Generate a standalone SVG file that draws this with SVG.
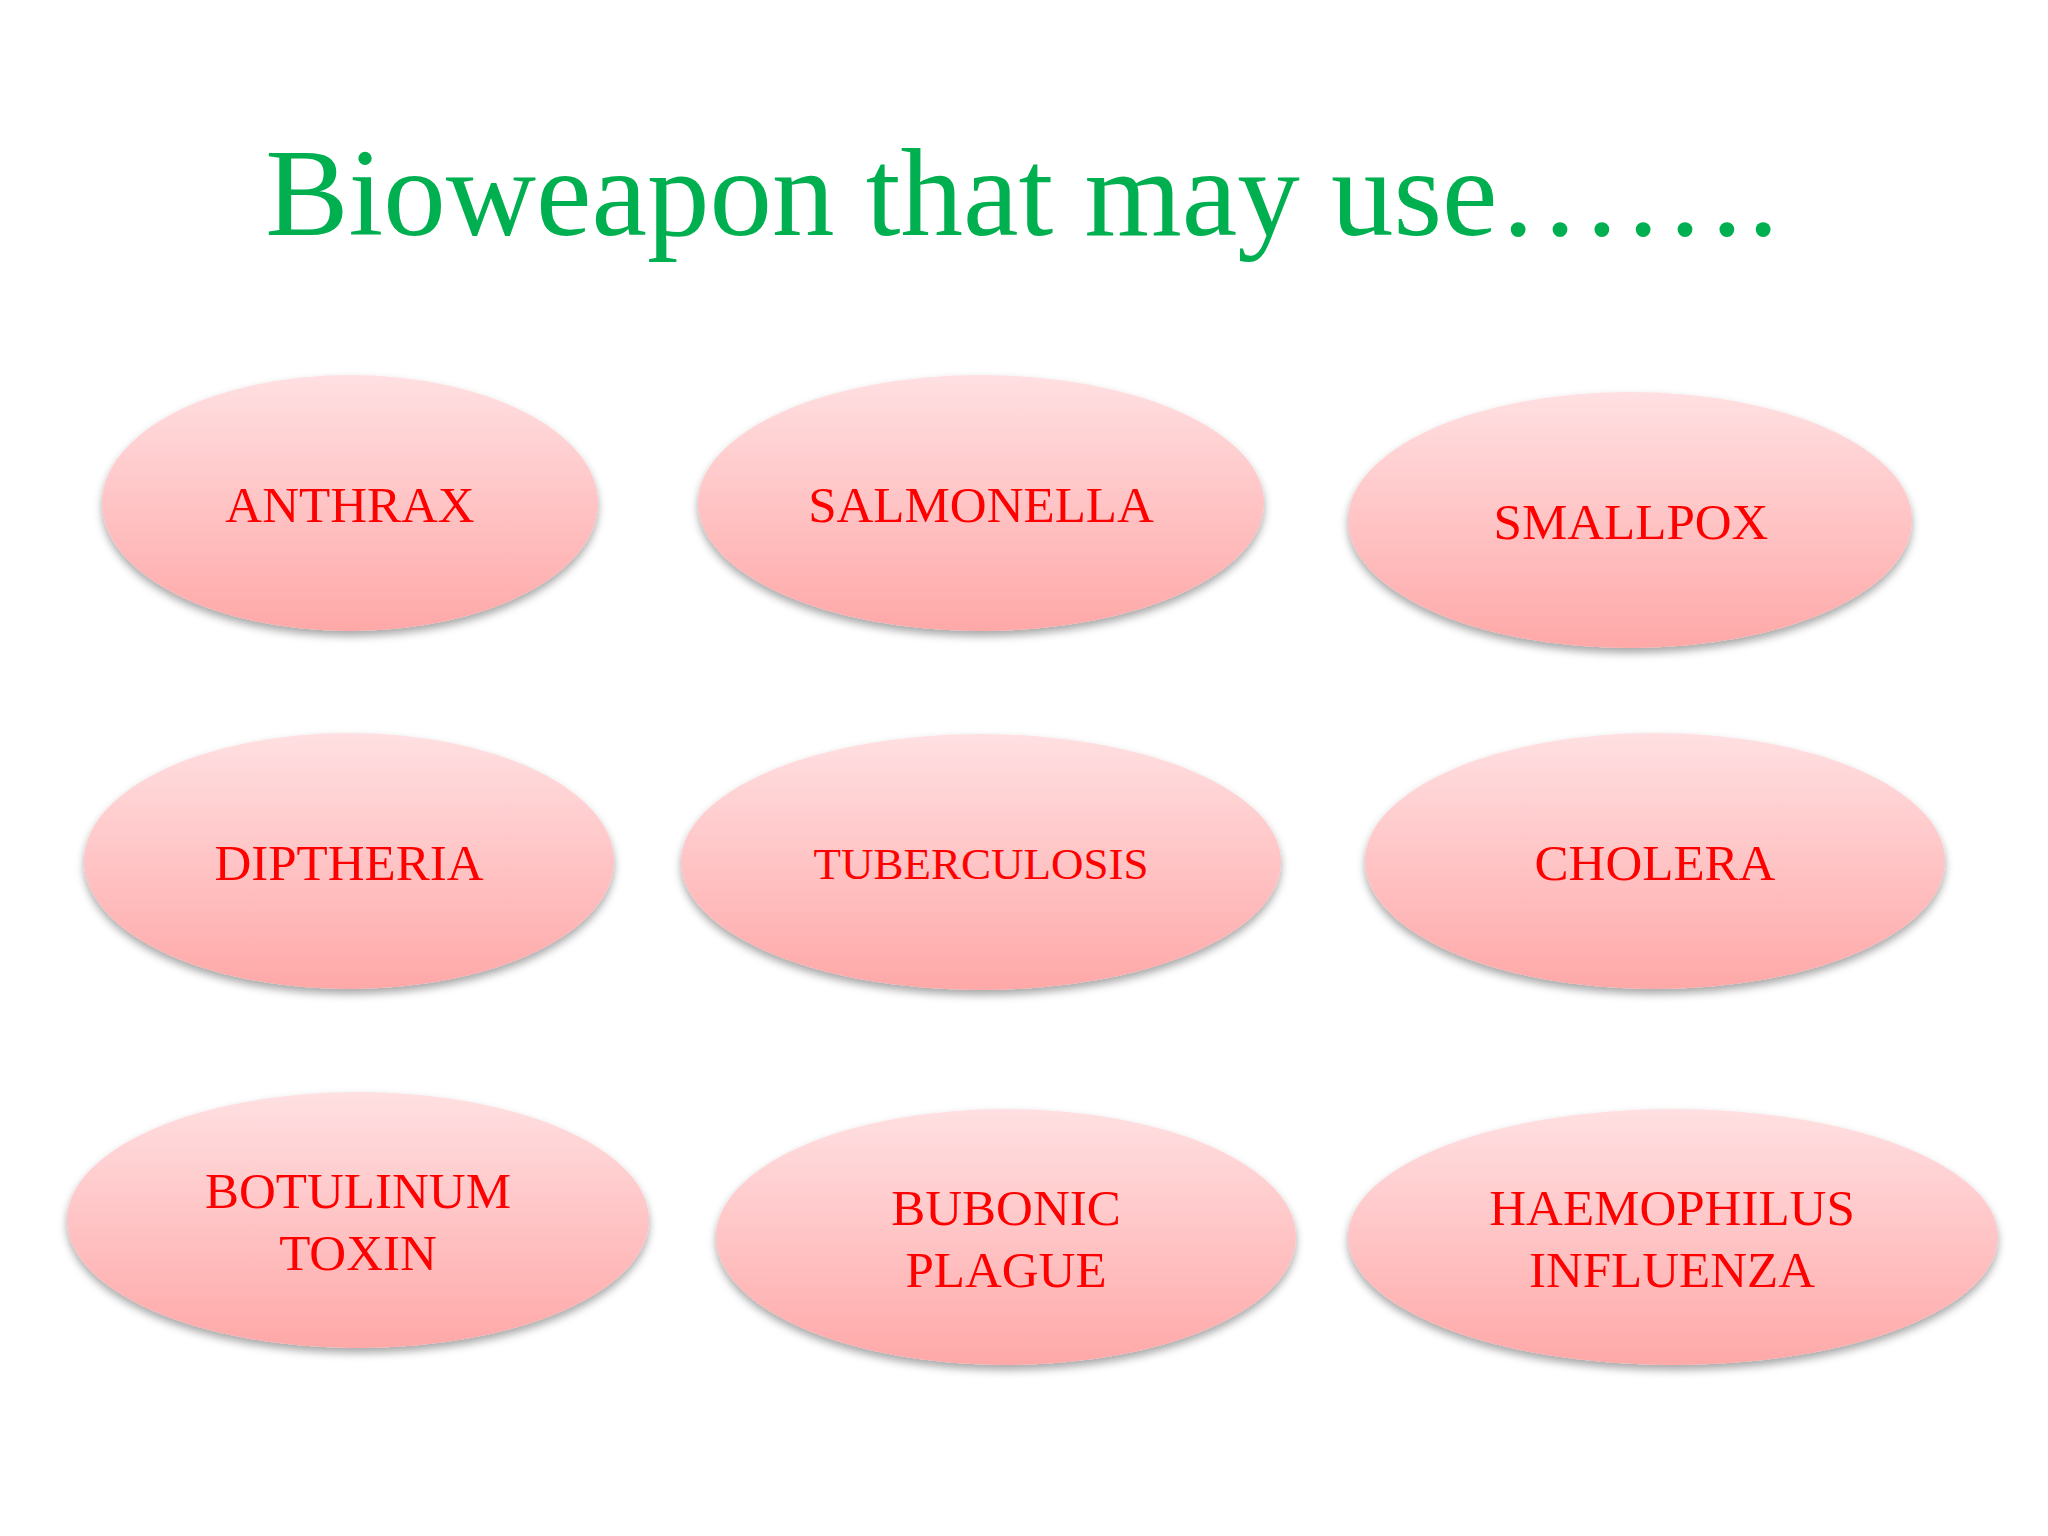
<svg xmlns="http://www.w3.org/2000/svg" width="2048" height="1536" viewBox="0 0 2048 1536">
<defs>
<linearGradient id="pink" x1="0" y1="0" x2="0" y2="1">
<stop offset="0" stop-color="#FFE0E2"/>
<stop offset="0.5" stop-color="#FFC4C5"/>
<stop offset="1" stop-color="#FFA8A8"/>
</linearGradient>
<filter id="shadow" x="-10%" y="-10%" width="120%" height="130%">
<feDropShadow dx="0" dy="5" stdDeviation="4" flood-color="#000000" flood-opacity="0.35"/>
</filter>
</defs>
<style>
.node ellipse { fill: url(#pink); filter: url(#shadow); }
.label { font-family: "Liberation Serif", "Times New Roman", serif; font-size: 51px; fill: #FF0000; text-anchor: middle; }
.title { font-family: "Liberation Serif", "Times New Roman", serif; font-size: 125px; fill: #00B050; text-anchor: middle; }
</style>
<rect x="0" y="0" width="2048" height="1536" fill="#FFFFFF"/>
<text class="title" x="1022" y="235">Bioweapon that may use…….</text>
<g id="connectors"></g>
<g id="anthrax" class="node">
<ellipse cx="350" cy="503" rx="248" ry="128"/>
<text class="label" x="350" y="522">ANTHRAX</text>
</g>
<g id="salmonella" class="node">
<ellipse cx="981" cy="503" rx="283" ry="128"/>
<text class="label" x="981" y="522">SALMONELLA</text>
</g>
<g id="smallpox" class="node">
<ellipse cx="1630" cy="520" rx="282" ry="128"/>
<text class="label" x="1631" y="539">SMALLPOX</text>
</g>
<g id="diptheria" class="node">
<ellipse cx="349" cy="861" rx="265" ry="128"/>
<text class="label" x="349" y="880">DIPTHERIA</text>
</g>
<g id="tuberculosis" class="node">
<ellipse cx="981" cy="862" rx="300" ry="128"/>
<text class="label" x="981" y="879" style="font-size:45px">TUBERCULOSIS</text>
</g>
<g id="cholera" class="node">
<ellipse cx="1655" cy="861" rx="290" ry="128"/>
<text class="label" x="1655" y="880">CHOLERA</text>
</g>
<g id="botulinum" class="node">
<ellipse cx="358" cy="1220" rx="291" ry="128"/>
<text class="label" x="358" y="1208">BOTULINUM</text>
<text class="label" x="358" y="1270">TOXIN</text>
</g>
<g id="bubonic" class="node">
<ellipse cx="1006" cy="1237" rx="290" ry="128"/>
<text class="label" x="1006" y="1225">BUBONIC</text>
<text class="label" x="1006" y="1287">PLAGUE</text>
</g>
<g id="haemophilus" class="node">
<ellipse cx="1673" cy="1237" rx="325" ry="128"/>
<text class="label" x="1672" y="1225">HAEMOPHILUS</text>
<text class="label" x="1672" y="1287">INFLUENZA</text>
</g>
</svg>
